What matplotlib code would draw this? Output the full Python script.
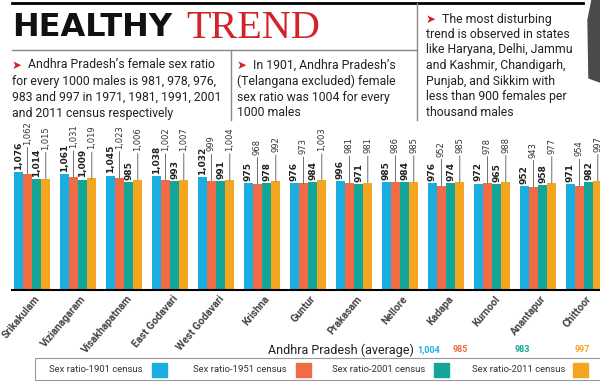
import matplotlib
matplotlib.use('Agg')
import matplotlib.pyplot as plt
from matplotlib.patches import Rectangle, Polygon
from matplotlib.lines import Line2D

districts = ['Srikakulam', 'Vizianagaram', 'Visakhapatnam', 'East Godavari', 'West Godavari',
             'Krishna', 'Guntur', 'Prakasam', 'Nellore', 'Kadapa', 'Kurnool', 'Anantapur', 'Chittoor']
ratio_1901 = [1076, 1061, 1045, 1038, 1032, 975, 976, 996, 985, 976, 972, 952, 971]
ratio_1951 = [1062, 1031, 1023, 1002, 999, 968, 973, 981, 986, 952, 978, 943, 954]
ratio_2001 = [1014, 1009, 985, 993, 991, 978, 984, 971, 984, 974, 965, 958, 982]
ratio_2011 = [1015, 1019, 1006, 1007, 1004, 992, 1003, 981, 985, 985, 988, 977, 997]
series_names = ['Sex ratio-1901 census', 'Sex ratio-1951 census',
                'Sex ratio-2001 census', 'Sex ratio-2011 census']
averages = ['1,004', '985', '983', '997']

colors = ['#1aaee0', '#ef6c46', '#13a598', '#f5a621']

W, H = 600, 382
fig = plt.figure(figsize=(6, 3.82), dpi=100)
fig.patch.set_facecolor('white')


def px(x, y):
    return x / W, 1 - y / H


# ---- header
fig.add_artist(Line2D([12 / W, 583 / W], [1 - 3 / H] * 2, color='black', lw=2))
fig.add_artist(Line2D([12 / W, 417 / W], [1 - 50 / H] * 2, color='#888888', lw=1))
fig.add_artist(Line2D([231 / W] * 2, [1 - 50 / H, 1 - 120 / H], color='#888888', lw=1))
fig.add_artist(Line2D([417 / W] * 2, [1 - 3 / H, 1 - 120 / H], color='#888888', lw=1))
# dark photo edge on the right
fig.add_artist(Polygon([px(600, 0), px(592, 0), px(588, 20), px(589, 78), px(600, 82)],
                       closed=True, transform=fig.transFigure, color='#4a4a4a'))

fig.text(*px(12, 28), 'HEALTHY', fontsize=23, fontweight='black', color='#111111',
         family='DejaVu Sans', va='center', ha='left')
fig.text(*px(186, 28), 'TREND', fontsize=29, color='#d2232a',
         family='Liberation Serif', va='center', ha='left')

body_font = ['Roboto', 'DejaVu Sans']
blocks = [
    (12, 65, 16, ["Andhra Pradesh\u2019s female sex ratio",
                  "for every 1000 males is 981, 978, 976,",
                  "983 and 997 in 1971, 1981, 1991, 2001",
                  "and 2011 census respectively"]),
    (237, 65, 16, ["In 1901, Andhra Pradesh\u2019s",
                   "(Telangana excluded) female",
                   "sex ratio was 1004 for every",
                   "1000 males"]),
    (426, 19, 15.5, ["The most disturbing",
                     "trend is observed in states",
                     "like Haryana, Delhi, Jammu",
                     "and Kashmir, Chandigarh,",
                     "Punjab, and Sikkim with",
                     "less than 900 females per",
                     "thousand males"]),
]
for x0, y0, gap, lines in blocks:
    for k, line in enumerate(lines):
        y = y0 + k * gap
        tx = x0
        if k == 0:
            fig.text(*px(x0, y), '\u27a4', color='#d2232a', fontsize=8.5,
                     family='DejaVu Sans', va='center', ha='left')
            tx = x0 + 16
        fig.text(*px(tx, y), line, fontsize=8.8, color='#222222',
                 family=body_font, va='center', ha='left')

# ---- bars
step = 46.0
ax_l, ax_r, base_y = 12, 600, 290
ax_h = 130
scale = 0.1095  # px per unit
ax = fig.add_axes([ax_l / W, 1 - base_y / H, (ax_r - ax_l) / W, ax_h / H])
ax.set_xlim((ax_l - 32) / step, (ax_r - 32) / step)
ax.set_ylim(0, ax_h / scale)
ax.axis('off')
ax.axhline(0, color='black', lw=1.5, clip_on=False)

bw = 0.2
all_series = [ratio_1901, ratio_1951, ratio_2001, ratio_2011]
for s, vals in enumerate(all_series):
    xs = [i + (s - 1.5) * bw for i in range(len(vals))]
    ax.bar(xs, vals, width=bw * 0.95, color=colors[s], clip_on=False)
    for x, v in zip(xs, vals):
        lab = f'{v:,}'
        if s in (0, 2):
            ax.annotate(lab, (x, v), xytext=(0, 1.5), textcoords='offset points',
                        rotation=90, ha='center', va='bottom', fontsize=6.5,
                        fontweight='bold', color='#222222', annotation_clip=False,
                        family='DejaVu Sans')
        else:
            ax.annotate(lab, (x, v), xytext=(0, 21), textcoords='offset points',
                        rotation=90, ha='center', va='bottom', fontsize=6,
                        color='#333333', annotation_clip=False, family='DejaVu Sans',
                        arrowprops=dict(arrowstyle='-', color='#555555', lw=0.6,
                                        shrinkA=0, shrinkB=0))

# ---- district labels
for i, name in enumerate(districts):
    xf = (32 + step * i + 6) / W
    fig.text(xf, 1 - 297 / H, name, rotation=50, rotation_mode='anchor',
             ha='right', va='center', fontsize=7.5, fontweight='bold',
             color='#444444', family=body_font)

# ---- average row
fig.text(*px(414, 350), 'Andhra Pradesh (average)', fontsize=9, color='#222222',
         family=body_font, ha='right', va='center')
for txt, x, c in zip(averages, [417, 453, 515, 575], colors):
    fig.text(*px(x, 350), txt, fontsize=6.5, color=c, family=body_font,
             fontweight='bold', ha='left', va='center')

# ---- legend box
fig.add_artist(Rectangle(px(35, 380), 570 / W, 22 / H, transform=fig.transFigure,
                         fill=False, edgecolor='#999999', lw=0.8))
leg_x = [49, 193, 332, 472]
sq_x = [152, 296, 434, 573]
for name, tx, sx, c in zip(series_names, leg_x, sq_x, colors):
    fig.text(*px(tx, 369), name, fontsize=6.8, color='#333333', family=body_font,
             ha='left', va='center')
    fig.add_artist(Rectangle(px(sx, 377), 15 / W, 14 / H, transform=fig.transFigure,
                             color=c))

fig.savefig('out.png', dpi=100)
